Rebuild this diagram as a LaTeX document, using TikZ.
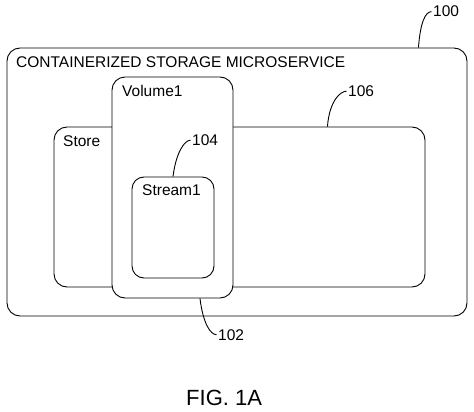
\documentclass[tikz,border=0pt]{standalone}
\usepackage{fontspec}
\setmainfont{Liberation Sans}
\usetikzlibrary{positioning}

\begin{document}
\begin{tikzpicture}[x=1pt,y=-1pt,
    box/.style={draw,line width=0.9pt,fill=white,rounded corners=13pt,inner sep=0pt},
    txt/.style={inner sep=0pt,anchor=base west,font=\fontsize{15.5}{18}\selectfont},
    lbl/.style={txt,inner sep=1.5pt},
    lead/.style={draw,line width=0.9pt}]
      \useasboundingbox (0,0) rectangle (474,412);
      % boxes, back to front
      \node[box,minimum width=460pt,minimum height=268pt] (outer) at (237,182) {};
      \node[box,minimum width=371pt,minimum height=160pt] (store) at (239.5,207) {};
      \node[box,minimum width=121pt,minimum height=221pt] (volume) at (172.5,187.5) {};
      \node[box,minimum width=82pt,minimum height=101pt,rounded corners=12pt] (stream) at (173,227.5) {};
      % texts
      \node[txt] (title) at (16,67) {CONTAINERIZED STORAGE MICROSERVICE};
      \node[txt] (voltxt) at (122,96.5) {Volume1};
      \node[txt] (storetxt) at (63,146.5) {Store};
      \node[txt] (streamtxt) at (142,195) {Stream1};
      % reference numbers
      \node[lbl] (n100) at (431.5,17) {100};
      \node[lbl] (n106) at (346.5,96.5) {106};
      \node[lbl] (n104) at (190.5,145.5) {104};
      \node[lbl] (n102) at (216.5,340) {102};
      \draw[lead] ([xshift=-49pt]outer.north east) .. controls +(2,-26) and +(-6,0) .. (n100.west);
      \draw[lead] ([xshift=-98pt]store.north east) .. controls +(2,-26) and +(-6,0) .. (n106.west);
      \draw[lead] (stream.north) .. controls +(3,-24) and +(-6,0) .. (n104.west);
      \draw[lead] ([xshift=27.5pt]volume.south) .. controls +(3,25) and +(-6,0) .. (n102.west);
      \node[txt,font=\fontsize{22}{26}\selectfont] (fig) at (186,405) {FIG. 1A};
    \end{tikzpicture}
\end{document}
